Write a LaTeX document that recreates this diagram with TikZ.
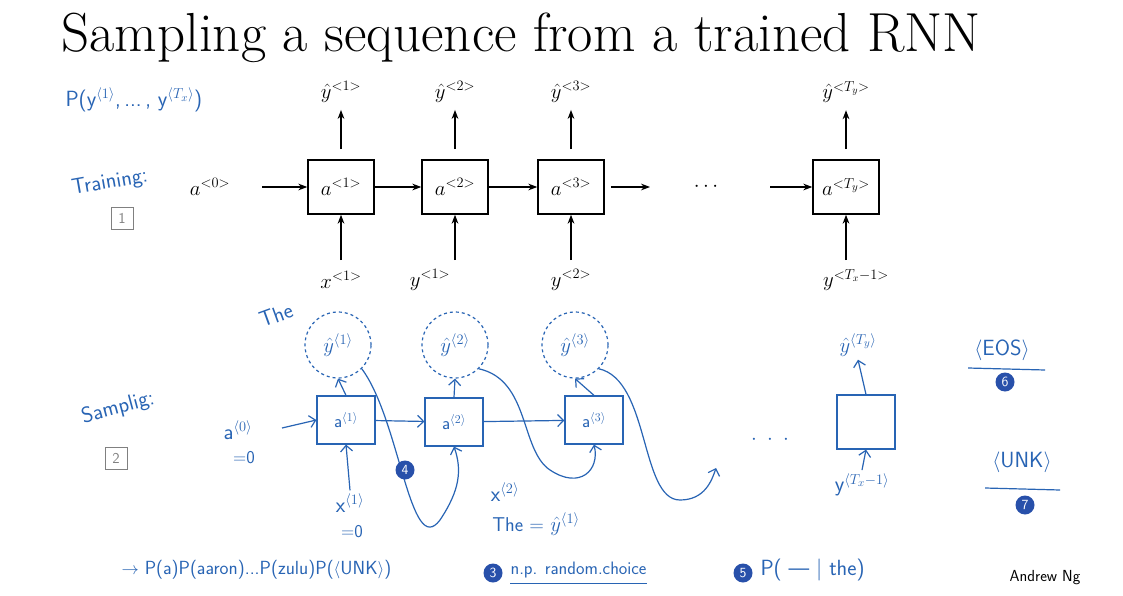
\documentclass[tikz,border=0pt]{standalone}
\usetikzlibrary{arrows.meta,positioning}
\definecolor{pen}{RGB}{40,100,180}
\definecolor{badge}{RGB}{40,80,170}
\newcommand{\fs}[1]{\fontsize{#1}{#1}\selectfont}
\begin{document}
\begin{tikzpicture}[x=1pt,y=-1pt,
 cell/.style={draw,line width=1.5pt,minimum width=66pt,minimum height=54pt,inner sep=0pt,font=\fs{21}},
 hcell/.style={draw=pen,line width=1.2pt,minimum width=58pt,minimum height=48pt,inner sep=0pt,text=pen,font=\fs{18}\sffamily},
 arr/.style={-{Stealth[length=9pt]},line width=1.3pt},
 harr/.style={-{Straight Barb[length=6pt]},draw=pen,line width=1.2pt},
 hw/.style={text=pen,font=\fs{22}\sffamily},
 bdg/.style={circle,fill=badge,text=white,inner sep=0pt,minimum size=19pt,font=\sffamily\fs{14}},
 gbox/.style={draw=gray,text=gray,minimum size=22pt,inner sep=0pt,font=\sffamily\fs{15}},
 lbl/.style={font=\fs{20}}]
\useasboundingbox[fill=white] (0,0) rectangle (1123,596);
\node[anchor=west,font=\fs{55}] (title) at (58,38) {Sampling a sequence from a trained RNN};
% typeset training row
\node[lbl] (a0) at (210,187) {$a^{<0>}$};
\node[cell] (c1) at (341,187) {$a^{<1>}$};
\node[cell] (c2) at (455,187) {$a^{<2>}$};
\node[cell] (c3) at (571,187) {$a^{<3>}$};
\node[font=\fs{22}] (dots) at (706,187) {$\cdots$};
\node[cell] (c4) at (846,187) {$a^{<T_y>}$};
\coordinate (d1) at (650,187); \coordinate (d2) at (806,187);
\coordinate (a0e) at (262,187);
\draw[arr] (a0e) -- (c1.west);
\draw[arr] (c1) -- (c2); \draw[arr] (c2) -- (c3);
\draw[arr] ([xshift=6pt]c3.east) -- (d1);
\draw[arr] ([xshift=-36pt]d2) -- (c4.west);
\foreach \c/\t/\x/\xx in {c1/{\hat y^{<1>}}/x^{<1>}/341, c2/{\hat y^{<2>}}/y^{<1>}/430, c3/{\hat y^{<3>}}/y^{<2>}/571, c4/{\hat y^{<T_y>}}/{y^{<T_x-1>}}/856}{
  \node[lbl] (\c t) at (\c.north |- 0,92) {$\t$};
  \node[lbl] (\c b) at (\xx,280) {$\x$};
  \coordinate (\c tu) at ([yshift=-4pt]\c t.south);
  \coordinate (\c bb) at (\c.south |- 0,260);
  \draw[arr] ([yshift=10pt]\c.north) -- (\c tu);
  \draw[arr] (\c bb) -- (\c.south);
}
% left labels
\node[hw,anchor=west] (pp) at (62,100) {P(y$^{\langle 1\rangle}$,\,...\,, y$^{\langle T_x\rangle}$)};
\node[hw,rotate=10] (tr) at (110,183) {Training:};
\node[gbox] (b1) at (122,218) {1};
\node[hw,rotate=15] (sa) at (118,408) {Samplig:};
\node[gbox] (b2) at (116,458) {2};
% sampling row
\node[hw] (s0) at (238,430) {a$^{\langle 0\rangle}$};
\node[hw,font=\fs{18}\sffamily] (s0z) at (244,458) {=0};
\node[hcell] (h1) at (346,420) {a$^{\langle 1\rangle}$};
\node[hcell] (h2) at (454,422) {a$^{\langle 2\rangle}$};
\node[hcell] (h3) at (594,420) {a$^{\langle 3\rangle}$};
\node[hcell,minimum height=54pt] (h4) at (866,422) {};
\node[hw] (hd) at (770,440) {$\cdot\;\cdot\;\cdot$};
\coordinate (s0e) at (282,428);
\draw[harr] (s0e) -- (h1.west);
\draw[harr] (h1) -- (h2); \draw[harr] (h2) -- (h3);
\foreach \h/\x/\n in {h1/338,h2/455/2,h3/575/3}{
}
\foreach \h/\x/\n in {h1/338/1,h2/455/2,h3/575/3}{
  \node[circle,draw=pen,dashed,line width=1.2pt,minimum size=66pt,inner sep=0pt,text=pen,font=\fs{20}\sffamily] (\h y) at (\x,345) {$\hat y^{\langle \n\rangle}$};
  \draw[harr] (\h.north) -- (\h y.south);
}
\node[hw] (h4y) at (858,345) {$\hat y^{\langle T_y\rangle}$};
\draw[harr] (h4.north) -- (h4y.south);
\node[hw,rotate=20] (the1) at (276,315) {The};
\node[hw] (x1) at (350,503) {x$^{\langle 1\rangle}$};
\node[hw,font=\fs{18}\sffamily] (x1z) at (352,532) {=0};
\draw[harr] (x1.north) -- (h1.south);
\node[hw] (x2) at (505,492) {x$^{\langle 2\rangle}$};
\node[hw,font=\fs{20}\sffamily] (the2) at (536,524) {The = $\hat y^{\langle 1\rangle}$};
\node[hw] (y4) at (862,485) {y$^{\langle T_x-1\rangle}$};
\draw[harr] (y4.north) -- (h4.south);
% feedback curves
\coordinate (e3) at (716,468);
\draw[harr] (h1y.south east) .. controls (400,420) and (410,560) .. (440,520) .. controls (460,490) and (462,470) .. (h2.south);
\draw[harr] (h2y.south east) .. controls (530,380) and (520,450) .. (550,470) .. controls (580,490) and (600,470) .. (h3.south);
\draw[harr] (h3y.south east) .. controls (650,380) and (640,500) .. (680,500) .. controls (705,500) and (712,480) .. (e3);
% badges
\node[bdg] (n4) at (405,470) {4};
\node[bdg] (n3) at (493,573) {3};
\node[bdg] (n5) at (743,573) {5};
\node[bdg] (n6) at (1005,382) {6};
\node[bdg] (n7) at (1025,505) {7};
\node[hw] (eos) at (1002,350) {$\langle$EOS$\rangle$};
\draw[pen,line width=1.2pt] (968,368) -- (1045,370);
\node[hw] (unk) at (1022,462) {$\langle$UNK$\rangle$};
\draw[pen,line width=1.2pt] (985,488) -- (1060,490);
% bottom
\node[hw,font=\fs{19}\sffamily,anchor=west] (pl) at (118,570) {$\rightarrow$ P(a)P(aaron)...P(zulu)P($\langle$UNK$\rangle$)};
\node[hw,font=\fs{18}\sffamily,anchor=west] (np) at (507,570) {n.p. random.choice};
\draw[pen,line width=1.2pt] ([shift={(3pt,-2pt)}]np.south west) -- ([shift={(-3pt,-2pt)}]np.south east);
\node[hw,anchor=west] (pt) at (757,570) {P( --- | the)};
\node[font=\sffamily\fs{16}] (ng) at (1045,578) {Andrew Ng};
\end{tikzpicture}
\end{document}
